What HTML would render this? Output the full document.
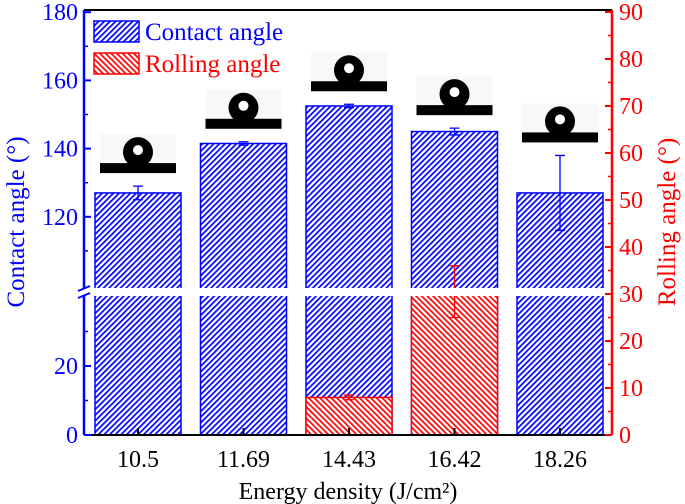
<!DOCTYPE html>
<html><head><meta charset="utf-8"><style>
body{margin:0;background:#fff}
svg{display:block;font-family:"Liberation Serif",serif}
</style></head><body>
<svg id="chart" width="685" height="504" viewBox="0 0 685 504">
<defs>
<pattern id="hb" patternUnits="userSpaceOnUse" width="4" height="4" patternTransform="rotate(45)"><rect width="4" height="4" fill="#fff"/><rect width="1.7" height="4" fill="#0000ff"/></pattern>
<pattern id="hr" patternUnits="userSpaceOnUse" width="4" height="4" patternTransform="rotate(-45)"><rect width="4" height="4" fill="#fff"/><rect width="1.7" height="4" fill="#ff0000"/></pattern>
</defs>
<g id="bars"></g>
<g id="axes"></g>
</svg>
<script>
const categories=["10.5","11.69","14.43","16.42","18.26"];
const contact=[127,141.5,152.5,145,127];
const contactErr=[2,0.5,0.5,1,11];
const rolling=[0,0,8,30.5,0];
const rollingErr=[0,0,0.5,5.5,0];
const leftTicksUpper=[120,140,160,180];
const leftTicksLower=[0,20];
const rightTicks=[0,10,20,30,40,50,60,70,80,90];
const NS="http://www.w3.org/2000/svg";
const X0=84,X1=612,Y0=435,YT=12,BRK=292;
const BLUE='#0000ff',RED='#ff0000';
function yL(v){return v>=100? 285-(v-100)*3.41 : Y0-v*3.45;}
function yR(v){return Y0-v*(Y0-YT)/90;}
function xC(i){return 138+i*105.5;}
function el(t,a,p){const e=document.createElementNS(NS,t);for(const k in a)e.setAttribute(k,a[k]);p.appendChild(e);return e;}
const bars=document.getElementById('bars'),axes=document.getElementById('axes');
const BW=86;
categories.forEach((c,i)=>{
  const x=xC(i)-BW/2;
  let r=el('rect',{x:x,y:yL(contact[i]),width:BW,height:Y0-yL(contact[i]),fill:'url(#hb)',stroke:BLUE,'stroke-width':1.5},bars);
  
  
  const e1=yL(contact[i]+contactErr[i]),e2=yL(contact[i]-contactErr[i]);
  let eb=el('path',{d:`M${xC(i)} ${e1}V${e2}M${xC(i)-5} ${e1}h10M${xC(i)-5} ${e2}h10`,stroke:BLUE,'stroke-width':1.3,fill:'none'},bars);
  
  
  if(rolling[i]>0){
    let rr=el('rect',{x:x,y:yR(rolling[i]),width:BW,height:Y0-yR(rolling[i]),fill:'url(#hr)',stroke:RED,'stroke-width':1.5},bars);
    
    
    const f1=yR(rolling[i]+rollingErr[i]),f2=yR(rolling[i]-rollingErr[i]);
    let re=el('path',{d:`M${xC(i)} ${f1}V${f2}M${xC(i)-5} ${f1}h10M${xC(i)-5} ${f2}h10`,stroke:RED,'stroke-width':1.3,fill:'none'},bars);
    
    
  }
  const base=Math.min(yL(contact[i]),e1)-14;
  let g=el('g',{},bars);
  
  
  el('rect',{x:xC(i)-38,y:base-38,width:76,height:38,fill:'#f8f8f8'},g);
  el('rect',{x:xC(i)-38,y:base-9,width:76,height:10,fill:'#000'},g);
  el('circle',{cx:xC(i),cy:base-20,r:15,fill:'#000'},g);
  el('circle',{cx:xC(i),cy:base-22,r:5,fill:'#fff'},g);
});
let gap=el('rect',{x:X0+2,y:BRK-4,width:X1-X0-4,height:8,fill:'#fff'},axes);

el('line',{x1:X0,y1:YT-2,x2:X1,y2:YT-2,stroke:'#000','stroke-width':2},axes);
el('line',{x1:X0,y1:Y0,x2:X1,y2:Y0,stroke:'#000','stroke-width':2},axes);
let la=el('path',{d:`M${X0} ${YT-2}V${BRK-4}M${X0} ${BRK+4}V${Y0}`,stroke:BLUE,'stroke-width':2.5},axes);

el('path',{d:`M${X0-6} ${BRK-1}l12 -5M${X0-6} ${BRK+6}l12 -5`,stroke:BLUE,'stroke-width':2},axes);
let ra=el('line',{x1:X1,y1:YT-2,x2:X1,y2:Y0,stroke:RED,'stroke-width':2.5},axes);

function lt(v){const y=yL(v);el('line',{x1:X0,y1:y,x2:X0+7,y2:y,stroke:BLUE,'stroke-width':2},axes);
 let t=el('text',{x:X0-6,y:y+8,'text-anchor':'end','font-size':24,fill:BLUE},axes);t.textContent=v;
 }
leftTicksUpper.forEach(lt);leftTicksLower.forEach(lt);
[110,130,150,170,10,30].forEach(v=>{const y=yL(v);el('line',{x1:X0,y1:y,x2:X0+4,y2:y,stroke:BLUE,'stroke-width':1.5},axes);});
rightTicks.forEach(v=>{const y=yR(v);el('line',{x1:X1-7,y1:y,x2:X1,y2:y,stroke:RED,'stroke-width':2},axes);
 if(v<90)el('line',{x1:X1-4,y1:yR(v+5),x2:X1,y2:yR(v+5),stroke:RED,'stroke-width':1.5},axes);
 let t=el('text',{x:X1+7,y:y+8,'font-size':24,fill:RED},axes);t.textContent=v;
 });
categories.forEach((c,i)=>{el('line',{x1:xC(i),y1:Y0,x2:xC(i),y2:Y0-7,stroke:'#000','stroke-width':2},axes);
 let t=el('text',{x:xC(i),y:Y0+32,'text-anchor':'middle','font-size':24,fill:'#000'},axes);t.textContent=c;
 });
let xt=el('text',{x:348,y:499,'text-anchor':'middle','font-size':24,fill:'#000'},axes);xt.textContent='Energy density (J/cm²)';

let yt=el('text',{x:0,y:0,transform:'translate(24 222) rotate(-90)','text-anchor':'middle','font-size':25,fill:BLUE},axes);yt.textContent='Contact angle (°)';

let yt2=el('text',{x:0,y:0,transform:'translate(675 222) rotate(-90)','text-anchor':'middle','font-size':25,fill:RED},axes);yt2.textContent='Rolling angle (°)';

let lg=el('g',{},axes);
el('rect',{x:94,y:21,width:45,height:21,fill:'url(#hb)',stroke:BLUE,'stroke-width':1.5},lg);
el('rect',{x:94,y:53,width:45,height:21,fill:'url(#hr)',stroke:RED,'stroke-width':1.5},lg);
let l1=el('text',{x:145,y:40,'font-size':25,fill:BLUE},lg);l1.textContent='Contact angle';

let l2=el('text',{x:145,y:72,'font-size':25,fill:RED},lg);l2.textContent='Rolling angle';

</script>
</body></html>
